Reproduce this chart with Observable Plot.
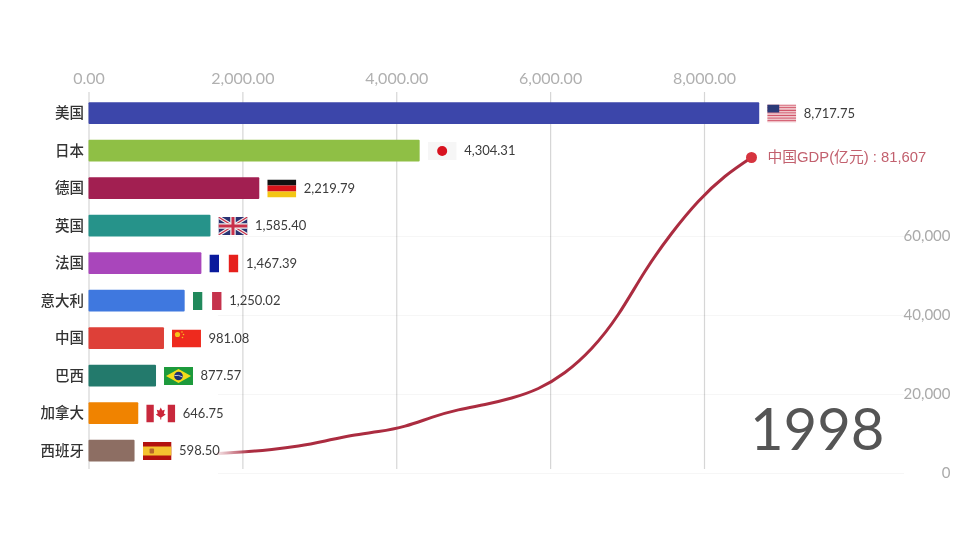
<!DOCTYPE html>
<html>
<head>
<meta charset="utf-8">
<script src="https://cdn.jsdelivr.net/npm/d3@7"></script>
<script src="https://cdn.jsdelivr.net/npm/@observablehq/plot@0.6"></script>
<style>
  body { margin: 0; background: white; }
  #chart { position: relative; width: 959px; height: 544px; overflow: hidden; filter: blur(0.4px); }
  #chart svg { position: absolute; left: 0; top: 0; }
</style>
</head>
<body>
<div id="chart"></div>
<script>
const countries = ["美国", "日本", "德国", "英国", "法国", "意大利", "中国", "巴西", "加拿大", "西班牙"];
const gdpValues = [8717.75, 4304.31, 2219.79, 1585.40, 1467.39, 1250.02, 981.08, 877.57, 646.75, 598.50];
const barColors = ["#3c46aa", "#8fbf45", "#a21f51", "#26938a", "#a946bb", "#3f78df", "#de4038", "#237a6c", "#f08300", "#8d6e63"];
const xTicks = [0, 2000, 4000, 6000, 8000];

const years = d3.range(1978, 1999);
const chinaGdp = [5060, 5500, 6080, 6960, 8250, 9620, 10630, 12000, 14200, 16100, 17470, 19110, 21520, 25570, 31650, 40250, 51140, 60760, 68860, 75190, 80000];
const gdpTicks = [0, 20000, 40000, 60000];
const gdpLabel = ["中国GDP(亿元) : 81,607"];
const yearLabel = ["1998"];

const svgFlag = inner => "data:image/svg+xml," + encodeURIComponent(
  `<svg xmlns="http://www.w3.org/2000/svg" width="29" height="18" viewBox="0 0 29 18">${inner}</svg>`);
const stripes = d3.range(0, 7).map(i => `<rect y="${i * 2.6}" width="29" height="1.3" fill="#d2566a"/><rect y="${i * 2.6 + 1.3}" width="29" height="1.3" fill="#eec4c8"/>`).join("");
const flagImages = [
  svgFlag(`${stripes}<rect width="12" height="8" fill="#2b3a78"/>`),
  svgFlag(`<rect width="29" height="18" fill="#f6f6f6"/><circle cx="14.5" cy="9" r="5" fill="#d8121f"/>`),
  svgFlag(`<rect width="29" height="6" fill="#111"/><rect y="6" width="29" height="6" fill="#d8141a"/><rect y="12" width="29" height="6" fill="#f3c614"/>`),
  svgFlag(`<rect width="29" height="18" fill="#2a3272"/><path d="M0 0L29 18M29 0L0 18" stroke="#eee" stroke-width="3.4"/><path d="M0 0L29 18M29 0L0 18" stroke="#c9304a" stroke-width="1.2"/><path d="M14.5 0V18M0 9H29" stroke="#eee" stroke-width="5.5"/><path d="M14.5 0V18M0 9H29" stroke="#c9304a" stroke-width="3"/>`),
  svgFlag(`<rect width="9.6" height="18" fill="#0a1a9c"/><rect x="19.4" width="9.6" height="18" fill="#e6201c"/>`),
  svgFlag(`<rect width="9.6" height="18" fill="#21895c"/><rect x="19.4" width="9.6" height="18" fill="#c5324c"/>`),
  svgFlag(`<rect width="29" height="18" fill="#ee2a1e"/><circle cx="5.5" cy="5" r="2.6" fill="#f6c21c"/><circle cx="10" cy="2.5" r=".8" fill="#f6c21c"/><circle cx="11.5" cy="5" r=".8" fill="#f6c21c"/><circle cx="10.5" cy="8" r=".8" fill="#f6c21c"/>`),
  svgFlag(`<rect width="29" height="18" fill="#1d9a3c"/><path d="M14.5 2L27 9L14.5 16L2 9Z" fill="#f4dc1a"/><circle cx="14.5" cy="9" r="4.3" fill="#1d2f70"/><path d="M10.5 8.5Q14.5 7.5 18.5 10" stroke="#eee" stroke-width=".8" fill="none"/>`),
  svgFlag(`<rect width="7.5" height="18" fill="#c8283c"/><rect x="21.5" width="7.5" height="18" fill="#c8283c"/><path d="M14.5 3L16 6L18.5 5.3L17.5 9L19.5 10L15 13L15 15H14L14 13L9.5 10L11.5 9L10.5 5.3L13 6Z" fill="#cc2438"/>`),
  svgFlag(`<rect width="29" height="18" fill="#b3120f"/><rect y="4.5" width="29" height="9" fill="#f4c230"/><rect x="7" y="6.5" width="4.5" height="5" rx="1" fill="#b8672a"/>`)
];

const bars = countries.map((country, i) => ({country, value: gdpValues[i], flag: flagImages[i]}));
const gdpLine = years.map((year, i) => ({year, value: chinaGdp[i]}));
const lastPoint = gdpLine.slice(-1);

const fontFamily = "Lato, 'Noto Sans CJK SC', sans-serif";

const barChart = Plot.plot({
  width: 959,
  height: 544,
  marginTop: 92,
  marginBottom: 75,
  marginLeft: 88.5,
  marginRight: 0,
  style: {fontFamily, background: "transparent"},
  x: {domain: [0, 8000], range: [88.5, 704], label: null},
  y: {domain: countries, range: [94.25, 469.25], paddingInner: 0.42, paddingOuter: 0.21, round: false, label: null},
  color: {domain: countries, range: barColors},
  marks: [
    Plot.gridX(xTicks, {stroke: "#d6d6d6", strokeOpacity: 1, strokeWidth: 1.2}),
    Plot.barX(bars, {x: "value", y: "country", fill: "country", rx: 1}),
    Plot.image(bars, {x: "value", y: "country", src: "flag", width: 29, height: 18, dx: 22}),
    Plot.text(bars, {x: "value", y: "country", text: d => d3.format(",.2f")(d.value), dx: 44, textAnchor: "start", fontSize: 13, fill: "#3c3c3c"}),
    Plot.axisX(xTicks, {anchor: "top", tickSize: 0, tickPadding: 9, tickFormat: d3.format(",.2f"), fontSize: 16, color: "#b0b0b0", label: null}),
    Plot.axisY({anchor: "left", tickSize: 0, tickPadding: 5, fontSize: 14.5, fontWeight: 500, fontFamily: "'Noto Sans CJK SC', sans-serif", color: "#333", label: null})
  ]
});

// el inicio de la curva se desvanece junto a la etiqueta de España
const fadeGradient = () => {
  const defs = d3.create("svg:defs");
  const gradient = defs.append("linearGradient").attr("id", "gdp-fade");
  gradient.append("stop").attr("offset", "0%").attr("stop-color", "#ab2c40").attr("stop-opacity", 0.15);
  gradient.append("stop").attr("offset", "6%").attr("stop-color", "#ab2c40").attr("stop-opacity", 1);
  gradient.append("stop").attr("offset", "100%").attr("stop-color", "#ab2c40").attr("stop-opacity", 1);
  return defs.node();
};

const lineChart = Plot.plot({
  width: 959,
  height: 544,
  marginTop: 157,
  marginBottom: 71,
  marginLeft: 218,
  marginRight: 55,
  style: {fontFamily, background: "transparent"},
  x: {domain: [1978, 1998], range: [218, 751], axis: null},
  y: {domain: [0, 60000], range: [473, 236], label: null},
  marks: [
    fadeGradient,
    Plot.gridY(gdpTicks, {stroke: "#000", strokeOpacity: 0.035}),
    Plot.line(gdpLine, {x: "year", y: "value", stroke: "url(#gdp-fade)", strokeWidth: 3, curve: "natural"}),
    Plot.dot(lastPoint, {x: "year", y: "value", r: 5.5, fill: "#d6343f"}),
    Plot.text(lastPoint, {x: "year", y: "value", text: () => gdpLabel[0], dx: 16, textAnchor: "start", fontSize: 14.8, fontFamily: "'Liberation Sans', 'Noto Sans CJK SC', sans-serif", fill: "#c2606e"}),
    Plot.axisY(gdpTicks, {anchor: "right", tickSize: 0, tickPadding: 46, textAnchor: "end", fontSize: 15, color: "#aaa", tickFormat: d3.format(","), label: null}),
    Plot.text(yearLabel, {text: d => d, frameAnchor: "bottom-right", textAnchor: "end", lineAnchor: "bottom", dx: -20, dy: -24, fontSize: 58, fill: "#555"})
  ]
});

const container = d3.select("#chart");
container.append(() => barChart);
container.append(() => lineChart);
</script>
</body>
</html>
